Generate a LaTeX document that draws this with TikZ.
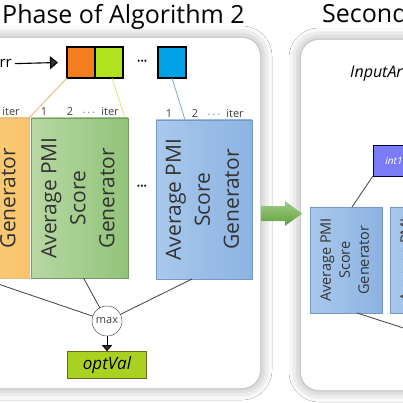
\documentclass[tikz,border=0pt]{standalone}
\usepackage{fontspec}
\setmainfont{Open Sans}
\usepackage{xcolor}
\usetikzlibrary{positioning,calc,arrows.meta,shadows.blur}

\definecolor{sorangec}{HTML}{F47D20}
\definecolor{slimec}{HTML}{B2E11E}
\definecolor{sbluec}{HTML}{00A1E6}
\definecolor{optc}{HTML}{A8D21F}
\definecolor{intc}{HTML}{7B7BF5}
\definecolor{arrowc}{HTML}{6CB244}
\definecolor{orangel}{HTML}{FDD184}
\definecolor{oranger}{HTML}{F9C46C}
\definecolor{greenl}{HTML}{B7D8A3}
\definecolor{greenr}{HTML}{92C37A}
\definecolor{bluel}{HTML}{A9C8EC}
\definecolor{bluer}{HTML}{8CB3E2}

\newcommand{\pmilabel}{\rotatebox{90}{\begin{tabular}{@{}c@{}}Average PMI\\Score\\Generator\end{tabular}}}

\begin{document}
\begin{tikzpicture}[
    x=1pt, y=-1pt,
    panel/.style={fill=white, rounded corners=18pt, blur shadow={shadow xshift=0pt, shadow yshift=0pt, shadow blur radius=12pt, shadow opacity=40}},
    title/.style={inner sep=0pt, font=\fontsize{25}{28}\selectfont},
    smallbox/.style={rectangle, draw=black, line width=1.3pt, minimum width=28pt, minimum height=31pt, inner sep=0pt, outer sep=0pt},
    pmibox/.style={rectangle, minimum width=97pt, minimum height=160pt, inner sep=0pt, outer sep=0pt, font=\fontsize{21}{29}\selectfont, text=black!80},
    pmismall/.style={rectangle, minimum width=72pt, minimum height=106pt, inner sep=0pt, outer sep=0pt, font=\fontsize{14.5}{19}\selectfont, text=black!80},
    orangebox/.style={draw=orange!60!yellow!70!black!50, left color=orangel, right color=oranger},
    greenbox/.style={draw=greenr!80!black, left color=greenl, right color=greenr},
    bluebox/.style={draw=bluer!85!black, left color=bluel, right color=bluer},
    idx/.style={anchor=base, inner sep=0pt, font=\fontsize{11}{12}\selectfont, text=black!75},
    dots/.style={inner sep=0pt, font=\fontsize{9}{10}\selectfont},
    link/.style={draw=black!75, line width=0.8pt},
    maxnode/.style={circle, draw=black!80, thin, fill=white, minimum size=30pt, inner sep=0pt, font=\fontsize{11}{12}\selectfont, text=black!75},
    optbox/.style={rectangle, draw=olive!70!black, fill=optc, minimum width=79pt, minimum height=27pt, inner sep=0pt, font=\itshape\fontsize{17}{18}\selectfont},
    intbox/.style={rectangle, draw=blue!30!black, fill=intc, minimum width=42pt, minimum height=31pt, inner sep=0pt, text=white, font=\itshape\fontsize{10}{11}\selectfont},
    arrow/.style={-{Triangle[length=8pt, width=13pt]}, line width=1.1pt},
]
\useasboundingbox (0,0) rectangle (403,403);
\clip (0,0) rectangle (403,403);
\fill[white] (0,0) rectangle (403,403);

% Panels
\path[panel] (-40,38) rectangle (260,388);
\path[panel] (301,40) rectangle (460,390);

% Titles
\node[title, anchor=base west] (phase1) at (2,24) {Phase of Algorithm 2};
\node[title, anchor=base west] (phase2) at (322,23) {Second Phase};

% Input array
\node[anchor=base east, inner sep=3pt, font=\fontsize{15}{16}\selectfont] (arr) at (15,68) {arr};
\node[smallbox, fill=sorangec] (sorange) at (81,62.5) {};
\node[smallbox, fill=slimec, right=0pt of sorange] (slime) {};
\node[dots, right=14pt of slime] (sdots) {\textbullet\textbullet\textbullet};
\node[smallbox, fill=sbluec] (sblue) at (172,62.5) {};
\draw[arrow] (arr) -- ([xshift=-9pt]sorange.west);

% Generators
\node[pmibox, orangebox] (gorange) at (-19.5,198) {\pmilabel};
\node[pmibox, greenbox, right=2pt of gorange] (ggreen) {\pmilabel};
\node[pmibox, bluebox, minimum width=96pt, minimum height=159pt] (gblue) at (204,199.5) {\pmilabel};
\node[dots] (gdots) at (142,187) {\textbullet\textbullet\textbullet};

% Iteration indices
\node[idx] at ($(gorange.north west)+(79,-2)$) {iter};
\foreach \b in {ggreen,gblue} {
  \node[idx] at ($(\b.north west)+(13,-2)$) {1};
  \node[idx] at ($(\b.north west)+(39,-2)$) {2};
  \node[idx] at ($(\b.north west)+(58,-2)$) {$\cdots$};
  \node[idx] at ($(\b.north west)+(79,-2)$) {iter};
}

% Array cells to generators
\draw[orange!60!brown!70, line width=0.7pt] (sorange.south west) -- (gorange.north east);
\draw[yellow!60!olive!60, line width=0.7pt] ([xshift=3pt]slime.south) -- ([xshift=-3pt]ggreen.north east);
\draw[cyan!60!blue!60, line width=0.7pt] (sblue.south) -- ([xshift=29pt]gblue.north west);

% Max and output
\node[maxnode] (max) at (107,321) {max};
\node[optbox, below=15pt of max] (optval) {optVal};
\draw[link] (gorange.south) -- (max);
\draw[link] ([xshift=4pt]ggreen.south) -- (max);
\draw[link] ([xshift=-12pt]gblue.south) -- (max);
\draw[-{Triangle[length=6pt, width=10pt]}, line width=0.8pt] (max) -- (optval);

% Arrow between phases
\shade[top color=arrowc!65!white, bottom color=arrowc!90!black] (261,206) -- (285,206) -- (285,201) -- (302,213.5) -- (285,226) -- (285,221) -- (261,221) -- cycle;

% Second phase
\node[anchor=base west, inner sep=0pt, font=\itshape\fontsize{16}{18}\selectfont] (inputarr) at (350,78) {InputArr};
\node[intbox] (int1) at (394,160.5) {int1};
\node[pmismall, bluebox] (rpmi) at (346,260) {\pmilabel};
\node[pmismall, bluebox, right=8pt of rpmi] (rpmi2) {\pmilabel};
\coordinate (rmax) at (450,343);
\draw[link] (int1.south west) -- ([xshift=6pt]rpmi.north);
\draw[link] ([xshift=11pt]rpmi.south) -- (rmax);

\end{tikzpicture}
\end{document}
